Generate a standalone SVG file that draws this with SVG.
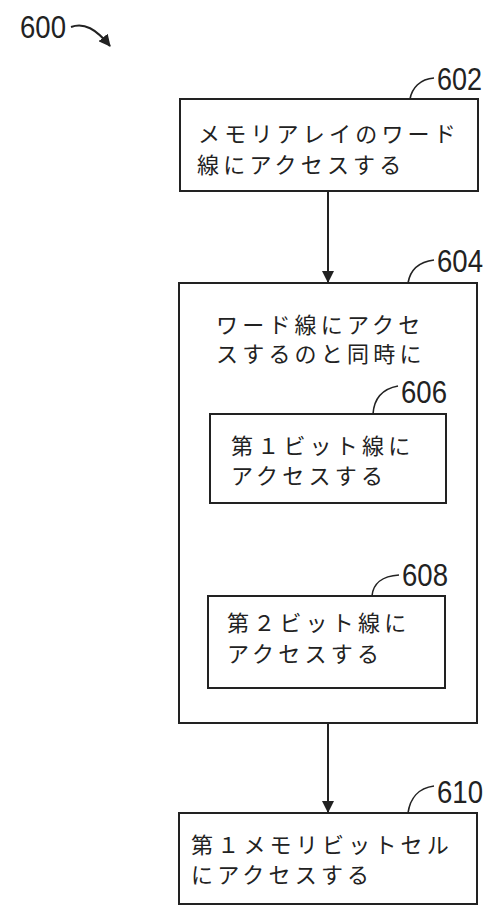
<svg xmlns="http://www.w3.org/2000/svg" width="504" height="922" viewBox="0 0 504 922">
<style>
.box{fill:#fff;stroke:#222;stroke-width:2}
.jp{font-family:"Noto Sans CJK JP","Noto Sans CJK SC",sans-serif;font-size:22px;letter-spacing:4.2px;fill:#222}
.lbl{font-family:"Liberation Sans",Arial,sans-serif;font-size:32px;fill:#222}
.lead{fill:none;stroke:#222;stroke-width:1.6}
.conn{fill:none;stroke:#222;stroke-width:2}
</style>
<defs>
<marker id="ah" markerWidth="12" markerHeight="12" refX="11" refY="6" orient="auto" markerUnits="userSpaceOnUse">
<path d="M0,0 L12,6 L0,12 z" fill="#222"/>
</marker>
</defs>
<rect width="504" height="922" fill="#fff"/>
<g id="fig-label">
<text class="lbl" x="20" y="38" textLength="46" lengthAdjust="spacingAndGlyphs">600</text>
<path class="conn" d="M71,27 C84,22 96,29 110,46" marker-end="url(#ah)"/>
</g>
<g id="connectors">
<line class="conn" x1="328" y1="191" x2="328" y2="282" marker-end="url(#ah)"/>
<line class="conn" x1="328" y1="503" x2="328" y2="595" marker-end="url(#ah)"/>
<line class="conn" x1="328" y1="723" x2="328" y2="812" marker-end="url(#ah)"/>
</g>
<g id="n602">
<rect class="box" x="180" y="99" width="298" height="92"/>
<text class="jp" x="198" y="142">メモリアレイのワード</text>
<text class="jp" x="197" y="173">線にアクセスする</text>
<path class="lead" d="M410,99 C412,88 420,79 434,78"/>
<text class="lbl" x="437" y="90" textLength="45" lengthAdjust="spacingAndGlyphs">602</text>
</g>
<g id="n604">
<rect class="box" x="179" y="283" width="298" height="440"/>
<text class="jp" x="216" y="333">ワード線にアクセ</text>
<text class="jp" x="216" y="362">スするのと同時に</text>
<path class="lead" d="M408,283 C410,271 418,262 434,260"/>
<text class="lbl" x="437" y="272" textLength="46" lengthAdjust="spacingAndGlyphs">604</text>
</g>
<g id="n606">
<rect class="box" x="210" y="414" width="236" height="89"/>
<text class="jp" x="231" y="454">第１ビット線に</text>
<text class="jp" x="231" y="484">アクセスする</text>
<path class="lead" d="M373,414 C374,399 382,389 398,386"/>
<text class="lbl" x="401" y="403" textLength="46" lengthAdjust="spacingAndGlyphs">606</text>
</g>
<g id="n608">
<rect class="box" x="208" y="596" width="237" height="92"/>
<text class="jp" x="227" y="631">第２ビット線に</text>
<text class="jp" x="227" y="662">アクセスする</text>
<path class="lead" d="M372,596 C373,584 382,576 399,575"/>
<text class="lbl" x="402" y="586" textLength="46" lengthAdjust="spacingAndGlyphs">608</text>
</g>
<g id="n610">
<rect class="box" x="179" y="813" width="298" height="91"/>
<text class="jp" x="191" y="853">第１メモリビットセル</text>
<text class="jp" x="191" y="883">にアクセスする</text>
<path class="lead" d="M408,813 C410,799 418,788 434,786"/>
<text class="lbl" x="437" y="803" textLength="46" lengthAdjust="spacingAndGlyphs">610</text>
</g>
</svg>
